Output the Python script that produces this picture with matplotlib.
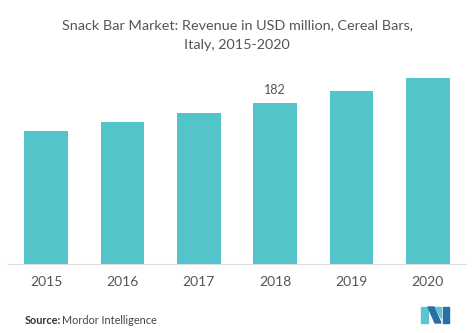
import matplotlib.pyplot as plt
from matplotlib.patches import Polygon

YEARS = ["2015", "2016", "2017", "2018", "2019", "2020"]
REVENUE = [150, 160, 171, 182, 196, 210]
LABELLED = {"2018": "182"}

BAR_COLOR = "#52C4CA"
TEXT_COLOR = "#555555"
W, H = 474, 333

plt.rcParams['font.family'] = ['Lato', 'DejaVu Sans']

fig = plt.figure(figsize=(W / 100, H / 100), dpi=100)
ax = fig.add_axes([8 / W, 1 - 264 / H, (466 - 8) / W, (264 - 60) / H])

x = range(len(YEARS))
bars = ax.bar(x, REVENUE, width=0.57, color=BAR_COLOR)
for b, year in zip(bars, YEARS):
    if year in LABELLED:
        ax.annotate(LABELLED[year], (b.get_x() + b.get_width() / 2, b.get_height()),
                    xytext=(0, 5), textcoords='offset points', ha='center',
                    va='bottom', fontsize=9, color=TEXT_COLOR)

ax.set_xlim(-0.5, 5.5)
ax.set_ylim(0, 230.6)
ax.set_xticks(list(x))
ax.set_xticklabels(YEARS, fontsize=10, color=TEXT_COLOR)
ax.tick_params(axis='x', length=0, pad=9)
ax.set_yticks([])
for side in ['left', 'right', 'top']:
    ax.spines[side].set_visible(False)
ax.spines['bottom'].set_color('#DDDDDD')

# Title
fig.text(0.5, 1 - 25 / H, "Snack Bar Market: Revenue in USD million, Cereal Bars,",
         ha='center', va='center', fontsize=10.4, color=TEXT_COLOR)
fig.text(0.5, 1 - 45 / H, "Italy, 2015-2020",
         ha='center', va='center', fontsize=10.4, color=TEXT_COLOR)

# Source
fig.text(25 / W, 1 - 321 / H, "Source:", ha='left', va='center', fontsize=7.8,
         fontweight='bold', color='#333333')
fig.text(62 / W, 1 - 321 / H, "Mordor Intelligence", ha='left', va='center',
         fontsize=7.8, color='#444444')

# Logo
def px(pts):
    return [(a / W, 1 - b / H) for a, b in pts]

logo = [
    ([(421, 307), (428, 307), (428, 323), (421, 323)], '#5CC6CC'),
    ([(428, 307), (434, 307), (441, 323), (435, 323)], '#2A6EA5'),
    ([(435, 307), (441, 307), (441, 318)], '#5CC6CC'),
    ([(443, 307), (449, 307), (449, 323), (443, 323)], '#2A6EA5'),
]
for pts, c in logo:
    fig.patches.append(Polygon(px(pts), closed=True, color=c,
                               transform=fig.transFigure, figure=fig))

fig.savefig("out.png", dpi=100)
